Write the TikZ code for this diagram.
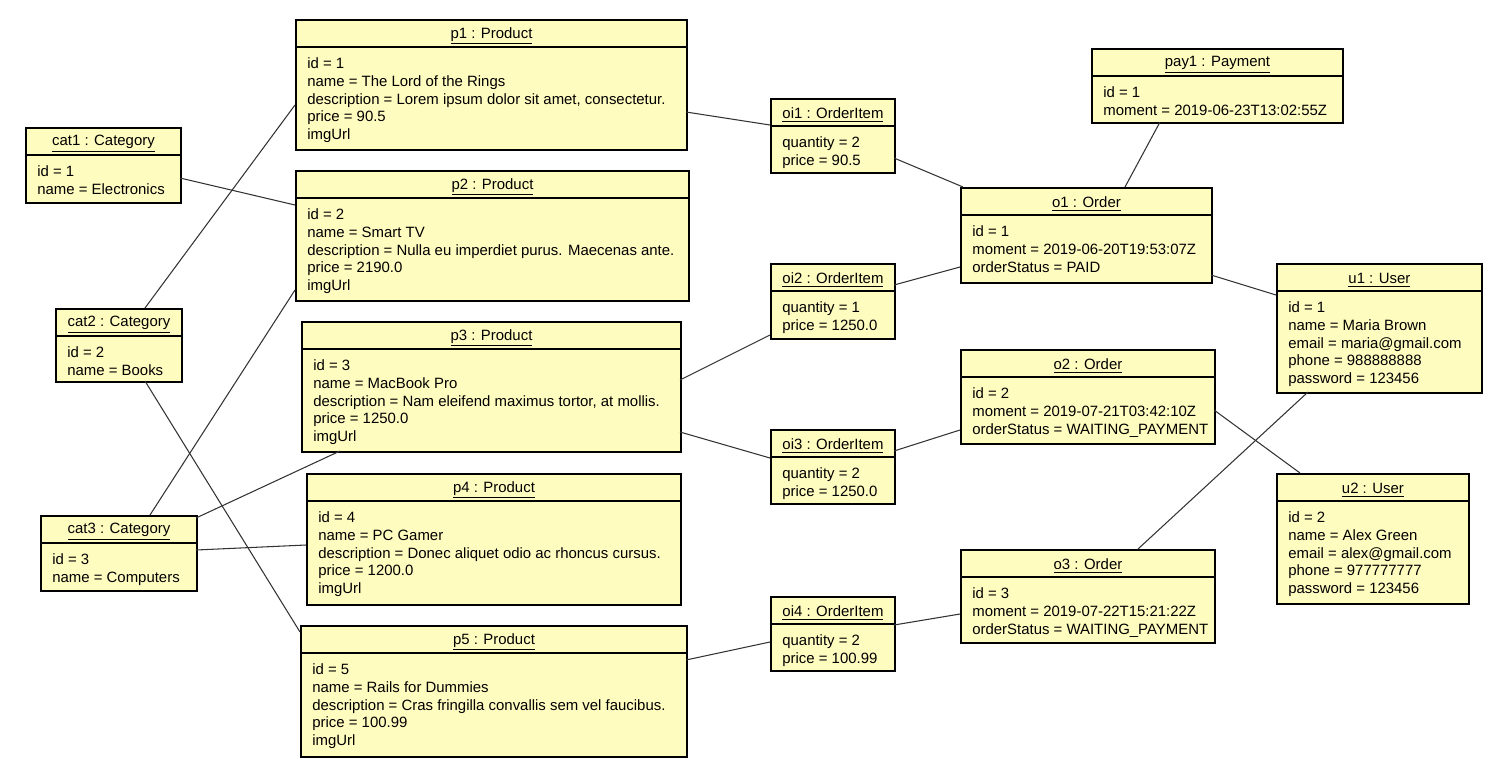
\documentclass[tikz,border=0pt]{standalone}
\usepackage{fontspec}
\setmainfont{Liberation Sans}
\usetikzlibrary{calc}

\newcommand\umlobj[7]{%
  \node[objbox,minimum width=#4*0.02cm,minimum height=#5*0.02cm] (#1) at (#2,#3) {};
  \node[objtitle] at ($(#1.north)+(0,17)$) {\underline{#6}};
  \draw[objline] ($(#1.north west)+(0,28)$) -- ($(#1.north east)+(0,28)$);
  \node[objbody] at ($(#1.north west)+(12,38)$) {#7};
}

\begin{document}
\begin{tikzpicture}[x=0.02cm,y=-0.02cm]
    \tikzstyle{objbox}=[draw=black,line width=1.1pt,fill=yellow!25!white,anchor=north west,inner sep=0pt]
    \tikzstyle{objtitle}=[font=\fontsize{8.5}{10.2}\selectfont,inner sep=0pt]
    \tikzstyle{objline}=[line width=0.8pt,color=black]
    \tikzstyle{objbody}=[font=\fontsize{8.5}{10.2}\selectfont,anchor=north west,align=left,inner sep=0pt]
    \tikzstyle{link}=[semithick,color=black!80]
    \useasboundingbox (0,0) rectangle (1507,771);

    % categories
    \umlobj{cat1}{25}{127}{155}{75}{cat1 : Category}{id = 1\\name = Electronics}
    \umlobj{cat2}{55}{308}{126}{73}{cat2 : Category}{id = 2\\name = Books}
    \umlobj{cat3}{40}{515}{156}{75}{cat3 : Category}{id = 3\\name = Computers}

    % products
    \umlobj{p1}{295}{19}{391}{130}{p1 : Product}{id = 1\\name = The Lord of the Rings\\description = Lorem ipsum dolor sit amet, consectetur.\\price = 90.5\\imgUrl}
    \umlobj{p2}{295}{170}{393}{130}{p2 : Product}{id = 2\\name = Smart TV\\description = Nulla eu imperdiet purus. Maecenas ante.\\price = 2190.0\\imgUrl}
    \umlobj{p3}{301}{321}{379}{130}{p3 : Product}{id = 3\\name = MacBook Pro\\description = Nam eleifend maximus tortor, at mollis.\\price = 1250.0\\imgUrl}
    \umlobj{p4}{306}{473}{374}{131}{p4 : Product}{id = 4\\name = PC Gamer\\description = Donec aliquet odio ac rhoncus cursus.\\price = 1200.0\\imgUrl}
    \umlobj{p5}{300}{625}{386}{131}{p5 : Product}{id = 5\\name = Rails for Dummies\\description = Cras fringilla convallis sem vel faucibus.\\price = 100.99\\imgUrl}

    % order items
    \umlobj{oi1}{770}{98}{124}{74}{oi1 : OrderItem}{quantity = 2\\price = 90.5}
    \umlobj{oi2}{770}{263}{124}{75}{oi2 : OrderItem}{quantity = 1\\price = 1250.0}
    \umlobj{oi3}{770}{429}{124}{74}{oi3 : OrderItem}{quantity = 2\\price = 1250.0}
    \umlobj{oi4}{770}{596}{124}{74}{oi4 : OrderItem}{quantity = 2\\price = 100.99}

    % orders, payment, users
    \umlobj{pay1}{1091}{48}{251}{74}{pay1 : Payment}{id = 1\\moment = 2019-06-23T13:02:55Z}
    \umlobj{o1}{960}{187}{251}{95}{o1 : Order}{id = 1\\moment = 2019-06-20T19:53:07Z\\orderStatus = PAID}
    \umlobj{o2}{960}{349}{254}{94}{o2 : Order}{id = 2\\moment = 2019-07-21T03:42:10Z\\orderStatus = WAITING\_PAYMENT}
    \umlobj{o3}{960}{549}{254}{93}{o3 : Order}{id = 3\\moment = 2019-07-22T15:21:22Z\\orderStatus = WAITING\_PAYMENT}
    \umlobj{u1}{1276}{263}{205}{129}{u1 : User}{id = 1\\name = Maria Brown\\email = maria@gmail.com\\phone = 988888888\\password = 123456}
    \umlobj{u2}{1276}{473}{192}{130}{u2 : User}{id = 2\\name = Alex Green\\email = alex@gmail.com\\phone = 977777777\\password = 123456}

    % links
    \draw[link] ($(cat1.north west)+(155,51)$) -- ($(p2.north west)+(0,35)$);
    \draw[link] ($(cat2.north west)+(90,0)$) -- ($(p1.north west)+(0,86)$);
    \draw[link] ($(cat2.north west)+(90,73)$) -- ($(p5.north west)+(0,7)$);
    \draw[link] ($(cat3.north west)+(110,0)$) -- ($(p2.north west)+(0,120)$);
    \draw[link] ($(cat3.north west)+(156,3)$) -- ($(p3.north west)+(39,130)$);
    \draw[link] ($(cat3.north west)+(156,35)$) -- ($(p4.north west)+(0,72)$);
    \draw[link] ($(p1.north west)+(391,93)$) -- ($(oi1.north west)+(0,27)$);
    \draw[link] ($(oi1.north west)+(124,60)$) -- ($(o1.north west)+(3,0)$);
    \draw[link] ($(p3.north west)+(379,59)$) -- ($(oi2.north west)+(0,72)$);
    \draw[link] ($(oi2.north west)+(124,22)$) -- ($(o1.north west)+(0,80)$);
    \draw[link] ($(p3.north west)+(379,111)$) -- ($(oi3.north west)+(0,29)$);
    \draw[link] ($(oi3.north west)+(124,22)$) -- ($(o2.north west)+(0,81)$);
    \draw[link] ($(p5.north west)+(386,35)$) -- ($(oi4.north west)+(0,46)$);
    \draw[link] ($(oi4.north west)+(124,29)$) -- ($(o3.north west)+(0,65)$);
    \draw[link] ($(pay1.north west)+(69,74)$) -- ($(o1.north west)+(165,0)$);
    \draw[link] ($(o1.north west)+(251,88)$) -- ($(u1.north west)+(0,32)$);
    \draw[link] ($(o2.north west)+(254,61)$) -- ($(u2.north west)+(24,0)$);
    \draw[link] ($(o3.north west)+(178,0)$) -- ($(u1.north west)+(32,129)$);
\end{tikzpicture}
\end{document}
